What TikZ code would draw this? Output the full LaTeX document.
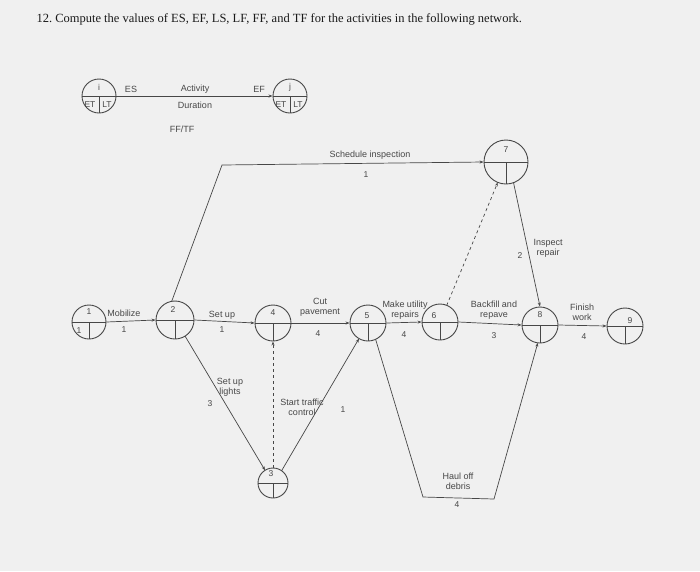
\documentclass[tikz,border=0pt]{standalone}
\usepackage{fontspec}
\setmainfont{Liberation Serif}
\setsansfont{Liberation Sans}
\usetikzlibrary{arrows.meta,calc}
\begin{document}
\begin{tikzpicture}[x=1pt,y=-1pt,
  ev/.style={circle,draw,line width=0.9pt,inner sep=0pt,minimum size=#1},
  ev/.default=34pt,
  num/.style={font=\sffamily\fontsize{8.5}{9.5}\selectfont,inner sep=1pt},
  lab/.style={font=\sffamily\fontsize{9}{10}\selectfont,align=center,inner sep=1pt},
  act/.style={line width=0.7pt,-{Stealth[length=4pt,width=3pt]}},
  dum/.style={line width=0.7pt,dashed,-{Stealth[length=4pt,width=3pt]}},
  black!72]
\fill[gray!12] (0,0) rectangle (700,571);
\useasboundingbox (0,0) rectangle (700,571);
\fill[black!6] (0,0) rectangle (700,8);
\node[anchor=west,font=\fontsize{12.5}{14}\selectfont,text=black!90] (title) at (33,19) {12.\ Compute the values of ES, EF, LS, LF, FF, and TF for the activities in the following network.};
\newcommand\evnode[4]{% name, x, y, size
  \node[ev=#4] (#1) at (#2,#3) {};
  \draw[line width=0.9pt] (#1.west) -- (#1.east) (#1.center) -- (#1.south);}
% legend
\evnode{li}{99}{96}{34pt}
\evnode{lj}{290}{96}{34pt}
\node[num] (lit) at (99,87) {i};
\node[num] (let) at (90,105) {ET};
\node[num] (llt) at (107,105) {LT};
\node[num] (ljt) at (290,87) {j};
\node[num] (ljet) at (281,105) {ET};
\node[num] (ljlt) at (298,105) {LT};
\draw[act] (li.east) -- (lj.west);
\node[lab] (les) at (131,89) {ES};
\node[lab] (lact) at (195,89) {Activity};
\node[lab] (ldur) at (195,105) {Duration};
\node[lab] (lef) at (259,89) {EF};
\node[lab] (lfftf) at (182,129) {FF/TF};
% events
\evnode{n1}{89}{322}{34pt}
\evnode{n2}{175}{320}{38pt}
\evnode{n4}{273}{323}{36pt}
\evnode{n5}{368}{323}{36pt}
\evnode{n6}{440}{322}{36pt}
\evnode{n8}{540}{325}{36pt}
\evnode{n9}{625}{326}{36pt}
\evnode{n7}{506}{162}{44pt}
\evnode{n3}{273}{483}{30pt}
\node[num] (t1) at (89,312) {1};
\node[num] (t1e) at (79,331) {1};
\node[num] (t2) at (173,310) {2};
\node[num] (t4) at (273,313) {4};
\node[num] (t5) at (367,316) {5};
\node[num] (t6) at (434,316) {6};
\node[num] (t8) at (540,315) {8};
\node[num] (t9) at (630,321) {9};
\node[num] (t7) at (506,150) {7};
\node[num] (t3) at (271,474) {3};
% activities
\draw[act] (n1.east) -- (n2.west);
\node[lab] (a12) at (124,313) {Mobilize};
\node[num] (d12) at (124,330) {1};
\draw[act] (n2.east) -- (n4.west);
\node[lab] (a24) at (222,315) {Set up};
\node[num] (d24) at (222,330) {1};
\draw[act] (n4.east) -- (n5.west);
\node[lab] (a45) at (320,307) {Cut\\pavement};
\node[num] (d45) at (318,334) {4};
\draw[act] (n5.east) -- (n6.west);
\node[lab] (a56) at (405,310) {Make utility\\repairs};
\node[num] (d56) at (404,335) {4};
\draw[act] (n6.east) -- (n8.west);
\node[lab] (a68) at (494,310) {Backfill and\\repave};
\node[num] (d68) at (494,336) {3};
\draw[act] (n8.east) -- (n9.west);
\node[lab] (a89) at (582,312) {Finish\\work};
\node[num] (d89) at (584,337) {4};
% schedule inspection
\coordinate (c27) at (222,165);
\draw[act] (n2) ++(100:19pt) -- (c27) -- (n7.west);
\node[lab] (a27) at (370,155) {Schedule inspection};
\node[num] (d27) at (366,175) {1};
% inspect repair
\draw[act] (n7) ++(-70:22pt) -- (n8.north);
\node[lab] (a78) at (548,248) {Inspect\\repair};
\node[num] (d78) at (520,256) {2};
\draw[dum] (n6) ++(68:18pt) -- ($(n7)+(-112:22pt)$);
% set up lights
\draw[act] (n2) ++(-58:19pt) -- ($(n3)+(122:15pt)$);
\node[lab] (a23) at (230,387) {Set up\\lights};
\node[num] (d23) at (210,404) {3};
\draw[dum] (n3.north) -- (n4.south);
\draw[act] (n3) ++(55:15pt) -- ($(n5)+(-120:18pt)$);
\node[lab] (a35) at (302,407) {Start traffic\\control};
\node[num] (d35) at (343,410) {1};
% haul off
\coordinate (h1) at (423,497);
\coordinate (h2) at (494,499);
\draw[act] (n5) ++(-65:18pt) -- (h1) -- (h2) -- ($(n8)+(-97:18pt)$);
\node[lab] (a58) at (458,481) {Haul off\\debris};
\node[num] (d58) at (457,505) {4};
\end{tikzpicture}
\end{document}
